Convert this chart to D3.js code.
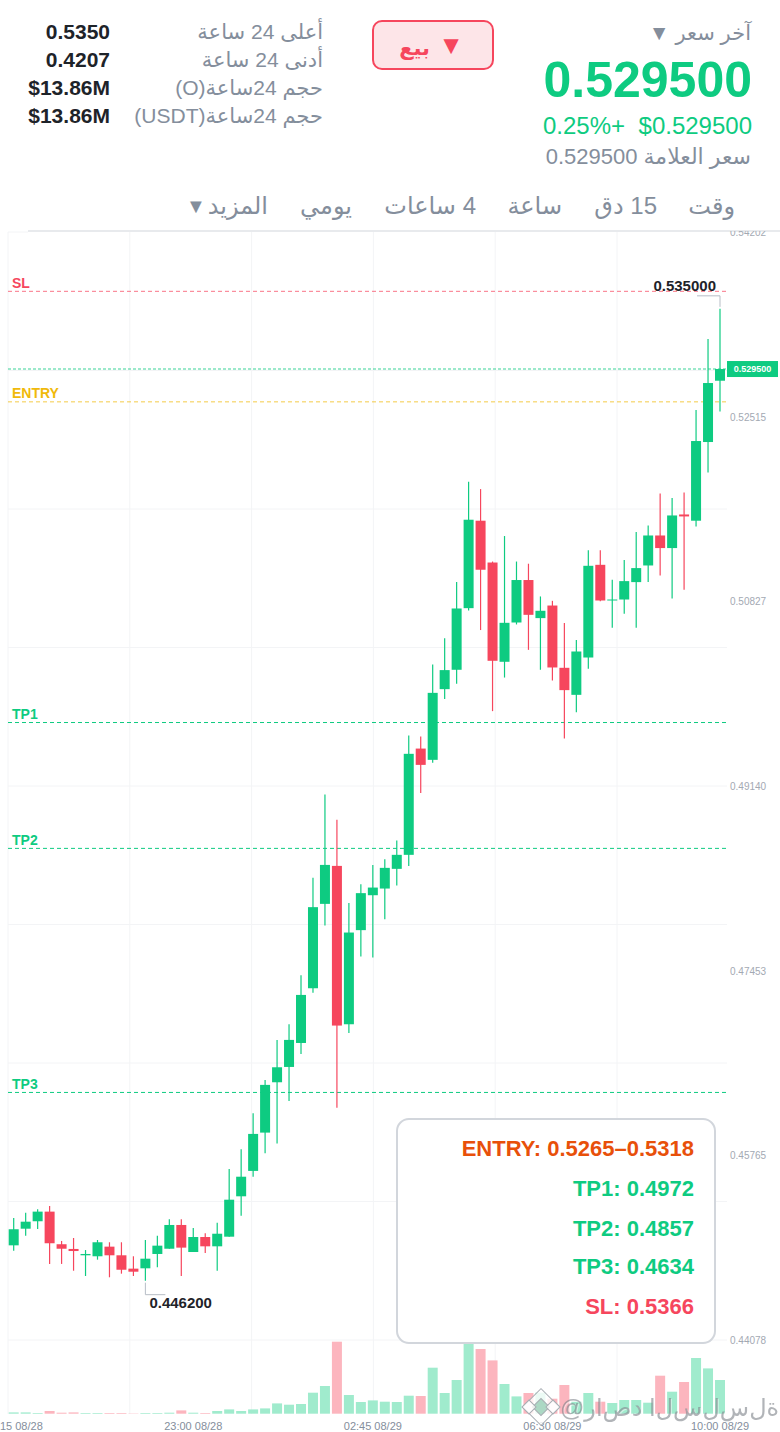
<!DOCTYPE html>
<html>
<head>
<meta charset="utf-8">
<style>
  html, body { margin: 0; padding: 0; background: #fff; }
  svg { display: block; }
  text { font-family: "Liberation Sans", "DejaVu Sans", sans-serif; }
  .rtl { direction: rtl; text-anchor: start; }
</style>
<script src="https://d3js.org/d3.v7.min.js"></script>
</head>
<body>
<div id="chart"></div>
<script>
// 15 minute candles, 19:15 08/28 to 10:00 08/29
var times = ["19:15 08/28","19:30 08/28","19:45 08/28","20:00 08/28","20:15 08/28","20:30 08/28","20:45 08/28","21:00 08/28","21:15 08/28","21:30 08/28",
  "21:45 08/28","22:00 08/28","22:15 08/28","22:30 08/28","22:45 08/28","23:00 08/28","23:15 08/28","23:30 08/28","23:45 08/28","00:00 08/29",
  "00:15 08/29","00:30 08/29","00:45 08/29","01:00 08/29","01:15 08/29","01:30 08/29","01:45 08/29","02:00 08/29","02:15 08/29","02:30 08/29",
  "02:45 08/29","03:00 08/29","03:15 08/29","03:30 08/29","03:45 08/29","04:00 08/29","04:15 08/29","04:30 08/29","04:45 08/29","05:00 08/29",
  "05:15 08/29","05:30 08/29","05:45 08/29","06:00 08/29","06:15 08/29","06:30 08/29","06:45 08/29","07:00 08/29","07:15 08/29","07:30 08/29",
  "07:45 08/29","08:00 08/29","08:15 08/29","08:30 08/29","08:45 08/29","09:00 08/29","09:15 08/29","09:30 08/29","09:45 08/29","10:00 08/29"];

var opens = [.44943,.45095,.45163,.45251,.44953,.44910,.44852,.44843,.44931,.44852,
  .44730,.44733,.44864,.44912,.45129,.44882,.45019,.44934,.45022,.45391,
  .45623,.45973,.46433,.46573,.46792,.47292,.48063,.48410,.46963,.47823,
  .48142,.48203,.48383,.48511,.49482,.49379,.50025,.50202,.50765,.51564,
  .51182,.50275,.50634,.51022,.50674,.50789,.50220,.49973,.50314,.51161,
  .50835,.50844,.51003,.51155,.51429,.51314,.51621,.51564,.52283,.52843];
var highs = [.45193,.45241,.45272,.45303,.44983,.45010,.44900,.44992,.44971,.44971,
  .44843,.44992,.45031,.45181,.45181,.45102,.45053,.45150,.45641,.45821,
  .46150,.46454,.46820,.46963,.47411,.48301,.49062,.48831,.48072,.48243,
  .48419,.48471,.48641,.49601,.49592,.50250,.50491,.51003,.51920,.51853,
  .51191,.51424,.51191,.51171,.50872,.50832,.50629,.50473,.51294,.51294,
  .51024,.51204,.51460,.51521,.51813,.51771,.51822,.52575,.53224,.53500];
var lows = [.44894,.45031,.45092,.44773,.44773,.44711,.44663,.44812,.44651,.44684,
  .44663,.44620,.44742,.44912,.44663,.44882,.44873,.44711,.45022,.45214,
  .45570,.45784,.45874,.46262,.46692,.47252,.47865,.46201,.46884,.47581,
  .47572,.47923,.48230,.48410,.49077,.49352,.49934,.50074,.50744,.50565,
  .49824,.50131,.50616,.50384,.50202,.50104,.49574,.49815,.50211,.50828,
  .50586,.50714,.50586,.51003,.51064,.50853,.50933,.51511,.52005,.52563];
var closes = [.45090,.45159,.45251,.44962,.44912,.44891,.44864,.44971,.44852,.44720,
  .44702,.44821,.44940,.45129,.44922,.45019,.44934,.45049,.45360,.45570,
  .45961,.46409,.46570,.46820,.47231,.48033,.48419,.46951,.47801,.48161,
  .48212,.48392,.48511,.49434,.49333,.49991,.50199,.50762,.51573,.51116,
  .50284,.50631,.51022,.50704,.50741,.50223,.50016,.50369,.51152,.50835,
  .50844,.51012,.51131,.51429,.51314,.51612,.51603,.52292,.52822,.52950];
// volume in thousands, estimated off the bar heights
var volumes = [13,13,7,27,10,13,7,7,7,7,
  3,7,7,10,33,10,7,27,43,27,
  43,53,103,90,97,210,277,720,187,117,
  133,120,117,180,177,460,207,337,707,647,
  533,297,173,207,210,150,287,120,207,120,
  107,137,137,110,380,220,317,557,453,337];

var priceTicks = [0.54202, 0.52515, 0.50827, 0.49140, 0.47453, 0.45765, 0.44078];
var timeTicks = ["19:15 08/28", "23:00 08/28", "02:45 08/29", "06:30 08/29", "10:00 08/29"];

var levelNames = ["SL", "ENTRY", "TP1", "TP2", "TP3"];
var levelValues = [0.5366, 0.5265, 0.4972, 0.4857, 0.4634];
var levelColors = ["#f6465d", "#f0b90b", "#0ecb81", "#0ecb81", "#0ecb81"];

var cardLines = ["ENTRY: 0.5265–0.5318", "TP1: 0.4972", "TP2: 0.4857", "TP3: 0.4634", "SL: 0.5366"];
var cardColors = ["#e8500a", "#0ecb81", "#0ecb81", "#0ecb81", "#f6465d"];

var statLabels = ["أعلى 24 ساعة", "أدنى 24 ساعة", "حجم 24ساعة(O)", "حجم 24ساعة(USDT)"];
var statValues = ["0.5350", "0.4207", "$13.86M", "$13.86M"];
var tabs = ["وقت", "15 دق", "ساعة", "4 ساعات", "يومي", "المزيد"];

var lastPrice = 0.5295;
var green = "#0ecb81", red = "#f6465d", gray = "#848e9c";

var width = 780, height = 1432;
var svg = d3.select("#chart").append("svg").attr("width", width).attr("height", height);

// scales
var x = d3.scalePoint().domain(times).range([13.7, 720]);
var y = d3.scaleLinear().domain([0.44078, 0.54202]).range([1340, 232]);
var yVol = d3.scaleLinear().domain([0, d3.max(volumes)]).range([1413.7, 1341.7]);
var gridX = d3.scaleLinear().domain([0, 6]).range([8, 738.8]);
var gridY = d3.scaleLinear().domain([0, 8]).range([232, 1340]);
var candleW = 10;

var data = times.map(function(t, i) {
  return {t: t, o: opens[i], h: highs[i], l: lows[i], c: closes[i], v: volumes[i]};
});

svg.append("clipPath").attr("id", "plotClip").append("rect")
  .attr("x", 0).attr("y", 231).attr("width", width).attr("height", 1201);

// grid
var grid = svg.append("g").attr("stroke", "#f3f4f6").attr("stroke-width", 1);
grid.selectAll("line.v").data(d3.range(0, 6)).enter().append("line")
  .attr("x1", function(d) { return gridX(d); }).attr("x2", function(d) { return gridX(d); })
  .attr("y1", 232).attr("y2", 1414);
grid.selectAll("line.h").data(d3.range(1, 9)).enter().append("line")
  .attr("x1", 8).attr("x2", 727)
  .attr("y1", function(d) { return gridY(d); }).attr("y2", function(d) { return gridY(d); });
svg.append("line").attr("x1", 8).attr("x2", 28).attr("y1", 232).attr("y2", 232).attr("stroke", "#f3f4f6");
svg.append("line").attr("x1", 28).attr("x2", 780).attr("y1", 231).attr("y2", 231).attr("stroke", "#e8eaed").attr("stroke-width", 2);

// price axis labels
svg.append("g").attr("clip-path", "url(#plotClip)").selectAll("text").data(priceTicks).enter().append("text")
  .attr("x", 730).attr("y", function(d) { return y(d); }).attr("dy", "0.4em")
  .attr("font-size", 10).attr("fill", "#a3a9b3")
  .text(function(d) { return d.toFixed(5); });

// time axis labels
svg.append("g").selectAll("text").data(timeTicks).enter().append("text")
  .attr("x", function(d) { return x(d); }).attr("y", 1430).attr("text-anchor", "middle")
  .attr("font-size", 11).attr("fill", gray)
  .text(function(d) { return d; });

// volume bars
svg.append("g").selectAll("rect").data(data).enter().append("rect")
  .attr("x", function(d) { return x(d.t) - candleW / 2; })
  .attr("y", function(d) { return yVol(d.v); })
  .attr("width", candleW)
  .attr("height", function(d) { return yVol(0) - yVol(d.v); })
  .attr("fill", function(d) { return d.c >= d.o ? "#a0ebcd" : "#fcb5be"; });

// level lines
svg.append("g").selectAll("line").data(levelValues).enter().append("line")
  .attr("x1", 8).attr("x2", 727)
  .attr("y1", function(d) { return y(d); }).attr("y2", function(d) { return y(d); })
  .attr("stroke", function(d, i) { return levelColors[i]; })
  .attr("stroke-width", 1)
  .attr("stroke-dasharray", "4 3")
  .attr("stroke-opacity", function(d, i) { return i < 2 ? 0.75 : 1; });
svg.append("g").selectAll("text").data(levelNames).enter().append("text")
  .attr("x", 12).attr("y", function(d, i) { return y(levelValues[i]) - 3.5; })
  .attr("font-size", 14).attr("font-weight", 700)
  .attr("fill", function(d, i) { return levelColors[i]; })
  .text(function(d) { return d; });

// last price line and tag
svg.append("line").attr("x1", 8).attr("x2", 727)
  .attr("y1", y(lastPrice)).attr("y2", y(lastPrice))
  .attr("stroke", green).attr("stroke-opacity", 0.55)
  .attr("stroke-width", 1.5).attr("stroke-dasharray", "3 2");

// candles
var candle = svg.append("g").selectAll("g").data(data).enter().append("g")
  .attr("fill", function(d) { return d.c >= d.o ? green : red; })
  .attr("stroke", function(d) { return d.c >= d.o ? green : red; });
candle.append("line")
  .attr("x1", function(d) { return x(d.t); }).attr("x2", function(d) { return x(d.t); })
  .attr("y1", function(d) { return y(d.h); }).attr("y2", function(d) { return y(d.l); })
  .attr("stroke-width", 1.2);
candle.append("rect")
  .attr("x", function(d) { return x(d.t) - candleW / 2; })
  .attr("y", function(d) { return y(Math.max(d.o, d.c)); })
  .attr("width", candleW)
  .attr("height", function(d) { return Math.max(1, Math.abs(y(d.o) - y(d.c))); })
  .attr("stroke", "none");

svg.append("rect").attr("x", 727).attr("y", y(lastPrice) - 8).attr("width", 51).attr("height", 16).attr("fill", green);
svg.append("text").attr("x", 752.5).attr("y", y(lastPrice)).attr("dy", "0.36em").attr("text-anchor", "middle")
  .attr("font-size", 9).attr("font-weight", 700).attr("fill", "#fff").text("0.529500");

// high and low markers
var hiCandle = d3.greatest(data, function(d) { return d.h; });
var loCandle = d3.least(data, function(d) { return d.l; });
var hx = x(hiCandle.t), hy = y(hiCandle.h), lx = x(loCandle.t), ly = y(loCandle.l);
svg.append("path").attr("fill", "none").attr("stroke", "#b7bdc6").attr("stroke-width", 1)
  .attr("d", "M" + hx + "," + (hy - 2) + "V" + (hy - 13) + "H" + (hx - 23));
svg.append("text").attr("x", hx - 4).attr("y", hy - 18).attr("text-anchor", "end")
  .attr("font-size", 15).attr("font-weight", 700).attr("fill", "#1e2329").text(hiCandle.h.toFixed(6));
svg.append("path").attr("fill", "none").attr("stroke", "#b7bdc6").attr("stroke-width", 1)
  .attr("d", "M" + lx + "," + (ly + 2) + "V" + (ly + 14) + "H" + (lx + 20));
svg.append("text").attr("x", lx + 4).attr("y", ly + 27)
  .attr("font-size", 15).attr("font-weight", 700).attr("fill", "#1e2329").text(loCandle.l.toFixed(6));

// watermark
var wm = svg.append("g");
wm.selectAll("rect").data([[541, 1407, 13, "#ffffff"], [541, 1407, 6, "#9ccfb8"], [529, 1407, 5, "#ffffff"], [553, 1407, 5, "#ffffff"]]).enter().append("rect")
  .attr("x", function(d) { return d[0] - d[2]; }).attr("y", function(d) { return d[1] - d[2]; })
  .attr("width", function(d) { return d[2] * 2; }).attr("height", function(d) { return d[2] * 2; })
  .attr("transform", function(d) { return "rotate(45 " + d[0] + " " + d[1] + ")"; })
  .attr("fill", function(d) { return d[3]; }).attr("fill-opacity", 0.8)
  .attr("stroke", "#a8adb3").attr("stroke-width", 1);
wm.append("text").attr("x", 560).attr("y", 1416)
  .attr("font-size", 24).attr("fill", "#7d8288").attr("fill-opacity", 0.6)
  .style("direction", "ltr").style("unicode-bidi", "bidi-override")
  .style("filter", "drop-shadow(1px 1px 0 rgba(255,255,255,.8))")
  .text("@ر\u200Cا\u200Cص\u200Cد\u200C ا\u200Cل\u200Cس\u200Cل\u200Cس\u200Cل\u200Cة");

// info card
svg.append("rect").attr("x", 397).attr("y", 1119).attr("width", 318).attr("height", 224).attr("rx", 12)
  .attr("fill", "#fff").attr("stroke", "#d2d6dc").attr("stroke-width", 2);
var cardY = [1156, 1196, 1236, 1274, 1314];
svg.append("g").selectAll("text").data(cardLines).enter().append("text")
  .attr("x", 694).attr("y", function(d, i) { return cardY[i]; }).attr("text-anchor", "end")
  .attr("font-size", 22).attr("font-weight", 700)
  .attr("fill", function(d, i) { return cardColors[i]; })
  .text(function(d) { return d; });

// header
svg.append("text").attr("class", "rtl").attr("x", 751).attr("y", 40).attr("font-size", 21).attr("fill", gray).text("آخر سعر ▼");
svg.append("text").attr("x", 752).attr("y", 97).attr("text-anchor", "end").attr("font-size", 50).attr("font-weight", 700).attr("fill", green).text("0.529500");
svg.append("text").attr("x", 752).attr("y", 134).attr("text-anchor", "end").attr("font-size", 24).attr("fill", green).text("$0.529500");
svg.append("text").attr("x", 625).attr("y", 134).attr("text-anchor", "end").attr("font-size", 24).attr("fill", green).text("0.25%+");
svg.append("text").attr("class", "rtl").attr("x", 751).attr("y", 164).attr("font-size", 22).attr("fill", gray).text("سعر العلامة 0.529500");

svg.append("rect").attr("x", 373).attr("y", 21).attr("width", 120).attr("height", 48).attr("rx", 9)
  .attr("fill", "#fde5e8").attr("stroke", red).attr("stroke-width", 2);
svg.append("text").attr("class", "rtl").attr("x", 430).attr("y", 55).attr("font-size", 21).attr("font-weight", 700).attr("fill", red).text("بيع");
svg.append("text").attr("x", 451).attr("y", 54).attr("text-anchor", "middle").attr("font-size", 26).attr("fill", red).text("▼");

var statY = [39, 67, 95, 123];
svg.append("g").selectAll("text").data(statLabels).enter().append("text")
  .attr("class", "rtl").attr("x", 323).attr("y", function(d, i) { return statY[i]; })
  .attr("font-size", 21).attr("fill", gray)
  .text(function(d) { return d; });
svg.append("g").selectAll("text").data(statValues).enter().append("text")
  .attr("x", 110).attr("y", function(d, i) { return statY[i] - 0.5; }).attr("text-anchor", "end")
  .attr("font-size", 21).attr("font-weight", 700).attr("fill", "#1e2329")
  .text(function(d) { return d; });

var tabRight = [735, 657, 562, 476, 352, 268];
svg.append("g").selectAll("text").data(tabs).enter().append("text")
  .attr("class", "rtl").attr("x", function(d, i) { return tabRight[i]; }).attr("y", 214)
  .attr("font-size", 24).attr("fill", gray)
  .text(function(d) { return d; });
svg.append("text").attr("x", 196).attr("y", 213).attr("text-anchor", "middle")
  .attr("font-size", 20).attr("fill", gray).text("▼");
</script>
</body>
</html>
